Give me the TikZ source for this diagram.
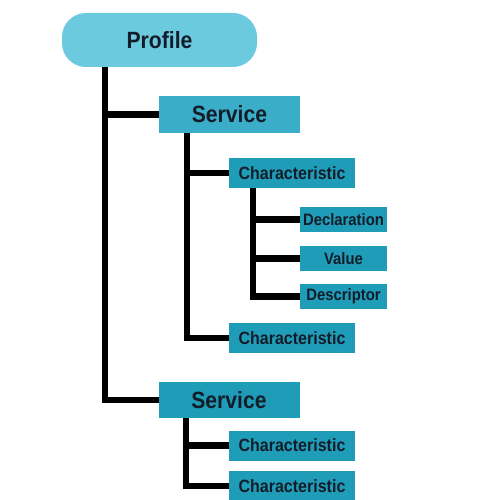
\documentclass[tikz,border=0pt]{standalone}
\usepackage{fontspec}
\setmainfont{Liberation Sans}[FakeStretch=0.9]
\definecolor{profcol}{HTML}{6CCADF}
\definecolor{svconecol}{HTML}{3AADC9}
\definecolor{boxcol}{HTML}{1F9CB7}
\definecolor{txtcol}{HTML}{131D2A}
\tikzset{
  base/.style={inner sep=0pt, outer sep=0pt, text=txtcol, font=\bfseries},
  profbox/.style={base, fill=profcol, rounded corners=24pt, minimum width=195pt, minimum height=54pt, font=\bfseries\fontsize{23.5}{26}\selectfont},
  svcbox/.style={base, fill=boxcol, minimum width=141pt, minimum height=36pt, font=\bfseries\fontsize{23.5}{26}\selectfont},
  charbox/.style={base, fill=boxcol, minimum width=126pt, minimum height=30pt, font=\bfseries\fontsize{17.8}{20}\selectfont},
  leafbox/.style={base, fill=boxcol, minimum width=87pt, minimum height=25pt, font=\bfseries\fontsize{16.5}{18}\selectfont},
  link/.style={line width=6.5pt, black, line join=miter}
}
\begin{document}
\begin{tikzpicture}[x=1pt,y=-1pt]
\useasboundingbox (0,0) rectangle (487,500);
\clip (0,0) rectangle (487,500);
\fill[white] (0,0) rectangle (487,500);
\node[profbox] (prof) at (159.5,40) {Profile};
\node[svcbox, fill=svconecol, minimum height=37pt] (svc1) at (229.5,114.5) {Service};
\node[charbox] (ch1) at (292,173) {Characteristic};
\node[leafbox] (decl) at (343.5,219.5) {Declaration};
\node[leafbox] (val) at (343.5,258.5) {Value};
\node[leafbox] (desc) at (343.5,296.5) {Descriptor};
\node[charbox] (ch2) at (292,338) {Characteristic};
\node[svcbox] (svc2) at (229,400) {Service};
\node[charbox] (ch3) at (292,445.5) {Characteristic};
\node[charbox] (ch4) at (292,486) {Characteristic};
% connectors
\coordinate (p0) at (105,0);
\coordinate (s1) at (187,0);
\coordinate (c1) at (253,0);
\coordinate (s2) at (186,0);
\draw[link] (prof.south -| p0) |- (svc2.west);
\draw[link] (svc1.west -| p0) -- (svc1.west);
\draw[link] (svc1.south -| s1) |- (ch2.west);
\draw[link] (ch1.west -| s1) -- (ch1.west);
\draw[link] (ch1.south -| c1) |- (desc.west);
\draw[link] (decl.west -| c1) -- (decl.west);
\draw[link] (val.west -| c1) -- (val.west);
\draw[link] (svc2.south -| s2) |- (ch4.west);
\draw[link] (ch3.west -| s2) -- (ch3.west);
\end{tikzpicture}
\end{document}
